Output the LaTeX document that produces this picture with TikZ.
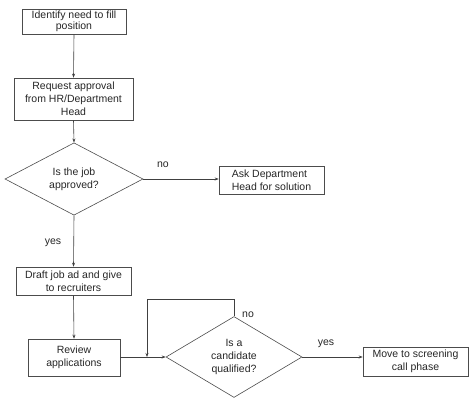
\documentclass[tikz,border=0pt]{standalone}
\usepackage{fontspec}
\setmainfont{Liberation Sans}
\usetikzlibrary{shapes.geometric,arrows.meta}
\begin{document}
\begin{tikzpicture}[x=1pt,y=-1pt,
  every node/.style={font=\fontsize{10.5}{13}\selectfont, text=black!85},
  procbox/.style={draw=black!70, line width=0.6pt, rectangle, inner sep=0pt, align=center},
  decbox/.style={draw=black!70, line width=0.6pt, diamond, inner sep=0pt, align=center},
  conn/.style={draw=black!75, line width=0.6pt, -{Stealth[length=4pt,width=3pt]}},
  lbl/.style={inner sep=0pt}]
\useasboundingbox (0,0) rectangle (474,402);
\node[procbox, minimum width=104pt, minimum height=25pt, font=\fontsize{10.5}{11.5}\selectfont] (identify) at (74,21.5) {Identify need to fill\\position};
\node[procbox, minimum width=119pt, minimum height=42pt] (request) at (73.5,99) {Request approval\\from HR/Department\\Head};
\node[decbox, minimum width=138pt, minimum height=68pt] (approved) at (74,179) {Is the job\\approved?};
\node[procbox, minimum width=105pt, minimum height=28pt, align=left] (ask) at (271.5,180) {Ask Department\\Head for solution};
\node[procbox, minimum width=115pt, minimum height=28pt] (draft) at (73.5,281) {Draft job ad and give\\to recruiters};
\node[procbox, minimum width=92pt, minimum height=37pt] (review) at (74,357.5) {Review\\applications};
\node[decbox, minimum width=136pt, minimum height=68pt] (qualified) at (234,357) {Is a\\candidate\\qualified?};
\node[procbox, minimum width=105pt, minimum height=29pt] (move) at (415.5,361.5) {Move to screening\\call phase};
\coordinate (loopend) at (147,357);
\node[lbl] (no1) at (163,165) {no};
\node[lbl] (yes1) at (53,243) {yes};
\node[lbl] (no2) at (248,315) {no};
\node[lbl] (yes2) at (326,344) {yes};
\draw[conn] (identify.south) -- (request.north);
\draw[conn] (request.south) -- (approved.north);
\draw[conn] (approved.east) -- (approved.east -| ask.west);
\draw[conn] (approved.south) -- (draft.north);
\draw[conn] (draft.south) -- (review.north);
\draw[conn] (review.east |- qualified.west) -- (qualified.west);
\draw[conn] (qualified.north) -- ++(0,-17) -| (loopend);
\draw[conn] (qualified.east) -- (qualified.east -| move.west);
\end{tikzpicture}
\end{document}
